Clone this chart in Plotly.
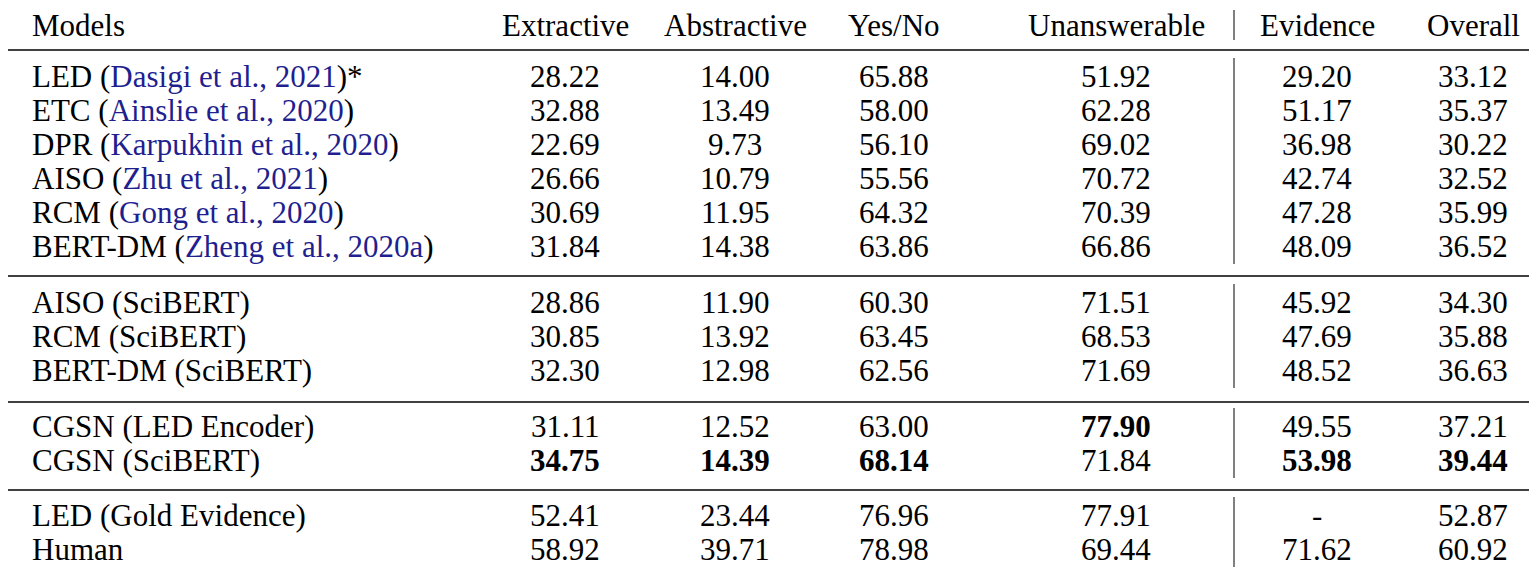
import plotly.graph_objects as go

headers = ["Models", "Extractive", "Abstractive", "Yes/No", "Unanswerable", "Evidence", "Overall"]
models = [
    ("LED", "Dasigi et al., ", "2021", ")*"),
    ("ETC", "Ainslie et al., ", "2020", ")"),
    ("DPR", "Karpukhin et al., ", "2020", ")"),
    ("AISO", "Zhu et al., ", "2021", ")"),
    ("RCM", "Gong et al., ", "2020", ")"),
    ("BERT-DM", "Zheng et al., ", "2020a", ")"),
    "AISO (SciBERT)", "RCM (SciBERT)", "BERT-DM (SciBERT)",
    "CGSN (LED Encoder)", "CGSN (SciBERT)",
    "LED (Gold Evidence)", "Human",
]
extractive = ["28.22", "32.88", "22.69", "26.66", "30.69", "31.84", "28.86", "30.85", "32.30", "31.11", "34.75", "52.41", "58.92"]
abstractive = ["14.00", "13.49", "9.73", "10.79", "11.95", "14.38", "11.90", "13.92", "12.98", "12.52", "14.39", "23.44", "39.71"]
yesno = ["65.88", "58.00", "56.10", "55.56", "64.32", "63.86", "60.30", "63.45", "62.56", "63.00", "68.14", "76.96", "78.98"]
unanswerable = ["51.92", "62.28", "69.02", "70.72", "70.39", "66.86", "71.51", "68.53", "71.69", "77.90", "71.84", "77.91", "69.44"]
evidence = ["29.20", "51.17", "36.98", "42.74", "47.28", "48.09", "45.92", "47.69", "48.52", "49.55", "53.98", "-", "71.62"]
overall = ["33.12", "35.37", "30.22", "32.52", "35.99", "36.52", "34.30", "35.88", "36.63", "37.21", "39.44", "52.87", "60.92"]
# (row, column) cells printed in bold
bold_cells = [(9, 4), (10, 1), (10, 2), (10, 3), (10, 5), (10, 6)]

W, H = 1537, 574
FONT = "Liberation Serif, 'Times New Roman', Times, DejaVu Serif, serif"
FS = 31
LINK = "#1f1f8f"
col_x = [22, 557, 727, 886, 1108, 1309, 1465]
header_y = 17
row_y = [68, 102, 136, 170, 204, 238, 294, 328, 362, 418, 452, 507, 541]
rule_y = [42, 268, 394, 482]
bottom_y = 571
divider_x = 1226
group_spans = [(0, 5), (6, 8), (9, 10), (11, 12)]

columns = [extractive, abstractive, yesno, unanswerable, evidence, overall]

fig = go.Figure()
ann = []
for j, h in enumerate(headers):
    ann.append(dict(x=col_x[j], y=header_y, text=h, xanchor="left" if j == 0 else "center"))
for i, m in enumerate(models):
    if isinstance(m, tuple):
        name, cite, year, tail = m
        txt = f"{name} (<span style='color:{LINK}'>{cite}{year}</span>{tail}"
    else:
        txt = m
    ann.append(dict(x=col_x[0], y=row_y[i], text=txt, xanchor="left"))
    for j, col in enumerate(columns, start=1):
        v = col[i]
        if (i, j) in bold_cells:
            v = f"<b>{v}</b>"
        ann.append(dict(x=col_x[j], y=row_y[i], text=v, xanchor="center"))
for a in ann:
    a.update(xref="x", yref="y", showarrow=False, yanchor="middle",
             font=dict(family=FONT, size=FS, color="black"))

shapes = []
for y in rule_y:
    shapes.append(dict(type="line", x0=0, x1=W, y0=y, y1=y, xref="x", yref="y",
                       line=dict(color="black", width=1.5)))
shapes.append(dict(type="line", x0=0, x1=W, y0=bottom_y, y1=bottom_y, xref="x", yref="y",
                   line=dict(color="black", width=3)))
shapes.append(dict(type="line", x0=divider_x, x1=divider_x, y0=2, y1=32, xref="x", yref="y",
                   line=dict(color="black", width=1)))
for a, b in group_spans:
    shapes.append(dict(type="line", x0=divider_x, x1=divider_x, y0=row_y[a] - 18, y1=row_y[b] + 18,
                       xref="x", yref="y", line=dict(color="black", width=1)))

fig.update_layout(
    width=W, height=H, margin=dict(l=0, r=0, t=0, b=0),
    paper_bgcolor="white", plot_bgcolor="white",
    font=dict(family=FONT),
    xaxis=dict(range=[0, W], visible=False, fixedrange=True),
    yaxis=dict(range=[H, 0], visible=False, fixedrange=True),
    annotations=ann, shapes=shapes, showlegend=False,
)
fig.write_html("out.html")
